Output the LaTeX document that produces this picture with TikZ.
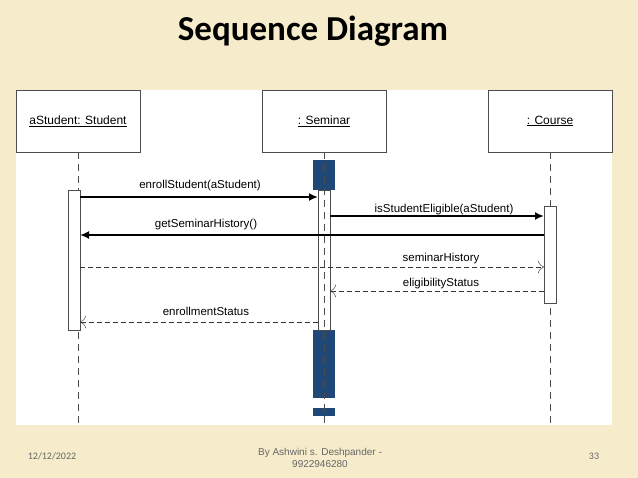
\documentclass[tikz,border=0pt]{standalone}
\usepackage{fontspec}
\setmainfont{Liberation Sans}
\newfontfamily\titlefont{Carlito}
\usetikzlibrary{arrows.meta,positioning}
\definecolor{slidebg}{HTML}{F6ECCB}
\definecolor{actblue}{HTML}{1F4778}
\begin{document}
\begin{tikzpicture}[x=1pt,y=-1pt,
  obj/.style={draw=black!70,fill=white,minimum width=124pt,minimum height=62pt,inner sep=0pt,font=\fontsize{12}{14}\selectfont},
  life/.style={dashed,black!70,dash pattern=on 7pt off 5pt},
  act/.style={draw=black!70,fill=white},
  blk/.style={fill=actblue},
  call/.style={-{Latex[length=9pt,width=8pt]},line width=1.8pt},
  ret/.style={-{To[length=6pt]},dashed,black!80,dash pattern=on 5pt off 3pt},
  lbl/.style={font=\fontsize{11.5}{13}\selectfont,inner sep=1pt}]
  \fill[slidebg] (0,0) rectangle (638,478);
  \useasboundingbox (0,0) rectangle (638,478);
  \node[font=\titlefont\bfseries\fontsize{35}{40}\selectfont] (title) at (313,31) {Sequence Diagram};
  \fill[white] (16,90) rectangle (612,425);

  % objects
  \node[obj] (stu) at (78,121) {\underline{aStudent: Student}};
  \node[obj] (sem) at (324,121) {\underline{: Seminar}};
  \node[obj] (crs) at (550,121) {\underline{: Course}};
  \coordinate (stuE) at (78,425);
  \coordinate (semE) at (324,425);
  \coordinate (crsE) at (550,425);
  \draw[life] (stu.south) -- (stuE);
  \draw[life] (crs.south) -- (crsE);

  % activations
  \fill[blk] (313,160) rectangle (335,190);
  \fill[blk] (313,330) rectangle (335,398);
  \fill[blk] (313,408) rectangle (335,416);
  \draw[act] (68,190) rectangle (80,330);
  \draw[act] (318,190) rectangle (330,330);
  \draw[act] (544,206) rectangle (556,303);
  \draw[life] (sem.south) -- (semE);

  \coordinate (m1s) at (80,197);   \coordinate (m1e) at (318,197);
  \coordinate (m2s) at (330,216);  \coordinate (m2e) at (544,216);
  \coordinate (m3s) at (544,235);  \coordinate (m3e) at (80,235);
  \coordinate (m4s) at (80,267);   \coordinate (m4e) at (544,267);
  \coordinate (m5s) at (544,291);  \coordinate (m5e) at (330,291);
  \coordinate (m6s) at (318,322);  \coordinate (m6e) at (80,322);

  % messages
  \draw[call] (m1s) -- (m1e);
  \node[lbl] (m1l) at (200,186) {enrollStudent(aStudent)};
  \draw[call] (m2s) -- (m2e);
  \node[lbl] (m2l) at (444,210) {isStudentEligible(aStudent)};
  \draw[call] (m3s) -- (m3e);
  \node[lbl] (m3l) at (206,225) {getSeminarHistory()};
  \draw[ret] (m4s) -- (m4e);
  \node[lbl] (m4l) at (441,259) {seminarHistory};
  \draw[ret] (m5s) -- (m5e);
  \node[lbl] (m5l) at (441,284) {eligibilityStatus};
  \draw[ret] (m6s) -- (m6e);
  \node[lbl] (m6l) at (206,311) {enrollmentStatus};

  % footer
  \node[font=\titlefont\fontsize{10}{12}\selectfont,text=black!60] (date) at (52,456) {12/12/2022};
  \node[font=\titlefont\fontsize{10}{12}\selectfont,text=black!60] (num) at (594,456) {33};
  \node[font=\fontsize{10}{12}\selectfont,text=black!60,align=center] (auth) at (320,458) {By Ashwini s. Deshpander -\\9922946280};
\end{tikzpicture}
\end{document}
